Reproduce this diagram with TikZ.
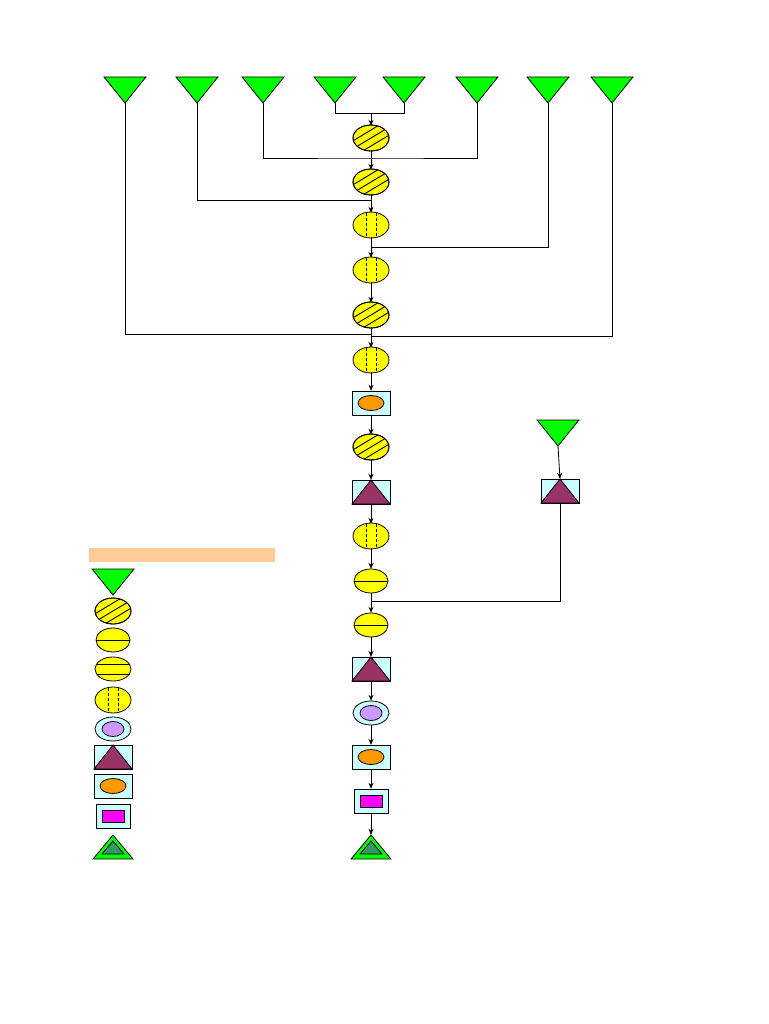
\documentclass[tikz,border=0pt]{standalone}
\usetikzlibrary{arrows.meta}
\definecolor{yel}{HTML}{FFFF00}
\definecolor{grn}{HTML}{00FF00}
\definecolor{dgrn}{HTML}{339966}
\definecolor{lcyan}{HTML}{CCFFFF}
\definecolor{plum}{HTML}{993366}
\definecolor{orng}{HTML}{FF9900}
\definecolor{lilac}{HTML}{CC99FF}
\definecolor{magn}{HTML}{FF00FF}
\definecolor{peach}{HTML}{FFCC99}
\tikzset{
 slot/.style={draw=none,inner sep=0,minimum width=38pt,minimum height=26pt},
 conn/.style={line width=0.8pt},
 arr/.style={conn,-{Stealth[length=6pt,width=5pt]}},
 ol/.style={draw=black,line width=0.8pt},
 src/.pic={\filldraw[ol,fill=grn](-21,-13)--(21,-13)--(0,13)--cycle;},
 ell/.pic={\filldraw[ol,fill=yel](0,0) ellipse (18 and 13);},
 hatch/.pic={\filldraw[ol,fill=yel](0,0) ellipse (18 and 13);
   \begin{scope}\clip(0,0) ellipse (18 and 13);
   \foreach \c in {-8,0,8}{\draw[line width=0.9pt](-20,12+\c)--(20,-12+\c);}\end{scope}
   \draw[ol](0,0) ellipse (18 and 13);},
 vdash/.pic={\filldraw[ol,fill=yel](0,0) ellipse (18 and 13);
   \draw[line width=0.9pt,dash pattern=on 3pt off 2pt](-5,-12)--(-5,12) (5,-12)--(5,12);},
 oneline/.pic={\filldraw[ol,fill=yel](0,0) ellipse (17 and 12); \draw[line width=0.9pt](-17,0)--(17,0);},
 twoline/.pic={\filldraw[ol,fill=yel](0,0) ellipse (18 and 12); \draw[line width=0.9pt](-16.5,-5)--(16.5,-5)(-16.5,5)--(16.5,5);},
 lil/.pic={\filldraw[ol,fill=lcyan](0,0) ellipse (18 and 12); \filldraw[ol,fill=lilac](0,0) ellipse (11 and 7.5);},
 boxtri/.pic={\filldraw[ol,fill=lcyan](-19,-12) rectangle (19,12); \filldraw[ol,fill=plum](-19,12)--(19,12)--(0,-12)--cycle;},
 boxorg/.pic={\filldraw[ol,fill=lcyan](-19,-12) rectangle (19,12); \filldraw[ol,fill=orng](0,0) ellipse (13 and 7.5);},
 boxmag/.pic={\filldraw[ol,fill=lcyan](-17,-12) rectangle (17,12); \filldraw[ol,fill=magn](-11,-6) rectangle (11,6);},
 gtri/.pic={\filldraw[ol,fill=grn](-20,12)--(20,12)--(0,-12)--cycle; \filldraw[ol,fill=dgrn](-11,7)--(11,7)--(0,-6)--cycle;},
}
\begin{document}
\begin{tikzpicture}[x=1pt,y=-1pt]
\useasboundingbox (0,0) rectangle (768,1024);
\foreach \n/\x in {s1/125,s2/197,s3/263,s4/335,s5/404,s6/477,s7/548,s8/612}{
  \node[slot] (\n) at (\x,90) {}; \pic at (\n) {src};}
\node[slot] (s9) at (558,433) {}; \pic at (s9) {src};
\foreach \n/\y/\p in {e1/138/hatch,e2/182/hatch,e3/225/vdash,e4/270/vdash,e5/315/hatch,e6/360/vdash,
  b1/403/boxorg,e7/447/hatch,t1/492/boxtri,e8/536/vdash,e9/581/oneline,e10/625/oneline,
  t2/669/boxtri,p1/713/lil,b2/757/boxorg,r1/801/boxmag,g1/847/gtri}{
  \node[slot,minimum height=24pt] (\n) at (371,\y) {}; \pic at (\n) {\p};}
\node[slot,minimum height=24pt] (t3) at (560,491) {}; \pic at (t3) {boxtri};
\foreach \a/\b in {e1/e2,e2/e3,e3/e4,e4/e5,e5/e6,e6/b1,b1/e7,e7/t1,t1/e8,e8/e9,e9/e10,e10/t2,t2/p1,p1/b2,b2/r1,r1/g1}{
  \draw[arr] (\a) -- (\b);}
\coordinate (j1) at (371,113);
\draw[conn] (s4.south) |- (s5.south |- j1) -- (s5.south);
\draw[arr] (j1) -- (e1);
\coordinate (j2) at (371,158);
\draw[conn] (s3.south) |- (j2) -| (s6.south);
\coordinate (j3) at (371,200);
\draw[conn] (s2.south) |- (j3);
\coordinate (j4) at (371,247);
\draw[conn] (s7.south) |- (j4);
\coordinate (j5) at (371,334);
\draw[conn] (s1.south) |- (j5);
\coordinate (j6) at (371,336);
\draw[conn] (s8.south) |- (j6);
\draw[arr] (s9.south) -- (t3.north);
\coordinate (j7) at (371,601);
\draw[conn] (t3.south) |- (j7);
\node[draw=none,fill=peach,minimum width=186pt,minimum height=14pt,inner sep=0] (bar) at (182,555) {};
\foreach \n/\y/\p in {l1/582/src,l2/611/hatch,l3/640/oneline,l4/669/twoline,l5/700/vdash,l6/729/lil,
  l7/757/boxtri,l8/786/boxorg,l9/816/boxmag,l10/847/gtri}{
  \node[slot] (\n) at (113,\y) {}; \pic at (\n) {\p};}
\end{tikzpicture}
\end{document}
